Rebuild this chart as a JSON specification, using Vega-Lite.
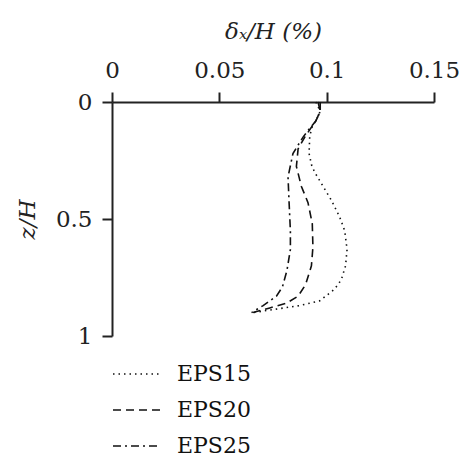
{
  "$schema": "https://vega.github.io/schema/vega-lite/v6.json",
  "autosize": "none",
  "padding": {"left": 112, "top": 102, "right": 40, "bottom": 133},
  "width": 322,
  "height": 234,
  "data": {
    "values": [
      {"series": "EPS15", "z": 0, "dx": 0.095},
      {"series": "EPS15", "z": 0.04, "dx": 0.097},
      {"series": "EPS15", "z": 0.08, "dx": 0.095},
      {"series": "EPS15", "z": 0.11, "dx": 0.093},
      {"series": "EPS15", "z": 0.15, "dx": 0.0921},
      {"series": "EPS15", "z": 0.22, "dx": 0.0918},
      {"series": "EPS15", "z": 0.27, "dx": 0.093},
      {"series": "EPS15", "z": 0.3, "dx": 0.0944},
      {"series": "EPS15", "z": 0.36, "dx": 0.0983},
      {"series": "EPS15", "z": 0.42, "dx": 0.1022},
      {"series": "EPS15", "z": 0.49, "dx": 0.106},
      {"series": "EPS15", "z": 0.55, "dx": 0.1084},
      {"series": "EPS15", "z": 0.63, "dx": 0.1095},
      {"series": "EPS15", "z": 0.7, "dx": 0.1088},
      {"series": "EPS15", "z": 0.76, "dx": 0.1068},
      {"series": "EPS15", "z": 0.8, "dx": 0.1037},
      {"series": "EPS15", "z": 0.85, "dx": 0.0967},
      {"series": "EPS15", "z": 0.87, "dx": 0.0874},
      {"series": "EPS15", "z": 0.883, "dx": 0.078},
      {"series": "EPS15", "z": 0.893, "dx": 0.0704},
      {"series": "EPS15", "z": 0.9, "dx": 0.066},
      {"series": "EPS20", "z": 0, "dx": 0.096},
      {"series": "EPS20", "z": 0.04, "dx": 0.097},
      {"series": "EPS20", "z": 0.08, "dx": 0.095},
      {"series": "EPS20", "z": 0.12, "dx": 0.092},
      {"series": "EPS20", "z": 0.15, "dx": 0.0898},
      {"series": "EPS20", "z": 0.2, "dx": 0.0867},
      {"series": "EPS20", "z": 0.275, "dx": 0.0859},
      {"series": "EPS20", "z": 0.36, "dx": 0.0882},
      {"series": "EPS20", "z": 0.43, "dx": 0.0913},
      {"series": "EPS20", "z": 0.52, "dx": 0.0933},
      {"series": "EPS20", "z": 0.62, "dx": 0.0936},
      {"series": "EPS20", "z": 0.7, "dx": 0.0929},
      {"series": "EPS20", "z": 0.78, "dx": 0.0902},
      {"series": "EPS20", "z": 0.83, "dx": 0.0867},
      {"series": "EPS20", "z": 0.86, "dx": 0.0812},
      {"series": "EPS20", "z": 0.88, "dx": 0.0735},
      {"series": "EPS20", "z": 0.9, "dx": 0.0657},
      {"series": "EPS25", "z": 0, "dx": 0.097},
      {"series": "EPS25", "z": 0.04, "dx": 0.097},
      {"series": "EPS25", "z": 0.08, "dx": 0.095},
      {"series": "EPS25", "z": 0.12, "dx": 0.0915},
      {"series": "EPS25", "z": 0.15, "dx": 0.089},
      {"series": "EPS25", "z": 0.22, "dx": 0.0843},
      {"series": "EPS25", "z": 0.32, "dx": 0.082},
      {"series": "EPS25", "z": 0.43, "dx": 0.0825},
      {"series": "EPS25", "z": 0.55, "dx": 0.0831},
      {"series": "EPS25", "z": 0.63, "dx": 0.0831},
      {"series": "EPS25", "z": 0.72, "dx": 0.0815},
      {"series": "EPS25", "z": 0.79, "dx": 0.0794},
      {"series": "EPS25", "z": 0.83, "dx": 0.0766},
      {"series": "EPS25", "z": 0.87, "dx": 0.0704},
      {"series": "EPS25", "z": 0.9, "dx": 0.065}
    ]
  },
  "mark": {"type": "line", "color": "#111", "strokeWidth": 1.6},
  "encoding": {
    "x": {
      "field": "dx",
      "type": "quantitative",
      "scale": {"domain": [0, 0.15], "nice": false, "zero": false},
      "axis": {
        "orient": "top",
        "title": "δₓ/H (%)",
        "titleFontStyle": "italic",
        "values": [0, 0.05, 0.1, 0.15],
        "labelExpr": "'' + datum.value",
        "labelFlush": false,
        "titlePadding": 16
      }
    },
    "y": {
      "field": "z",
      "type": "quantitative",
      "scale": {"domain": [0, 1], "reverse": true, "nice": false},
      "axis": {
        "title": "z/H",
        "titleFontStyle": "italic",
        "values": [0, 0.5, 1],
        "labelExpr": "'' + datum.value",
        "labelFlush": false,
        "titlePadding": 16
      }
    },
    "order": {"field": "z", "type": "quantitative"},
    "strokeDash": {
      "field": "series",
      "type": "nominal",
      "scale": {
        "domain": ["EPS15", "EPS20", "EPS25"],
        "range": [[1.5, 4], [8, 5], [8, 4, 2, 4]]
      },
      "legend": {
        "title": null,
        "orient": "none",
        "legendX": 0,
        "legendY": 247,
        "symbolType": "stroke",
        "symbolSize": 2304,
        "symbolStrokeWidth": 1.6,
        "symbolStrokeColor": "#111",
        "labelFontSize": 22,
        "labelFont": "DejaVu Serif",
        "labelColor": "#111",
        "labelOffset": 15,
        "rowPadding": -16
      }
    }
  },
  "config": {
    "view": {"stroke": null},
    "font": "DejaVu Serif",
    "axis": {
      "grid": false,
      "domainColor": "#222",
      "domainWidth": 2,
      "tickColor": "#222",
      "tickWidth": 2,
      "tickSize": 10,
      "labelFont": "DejaVu Serif",
      "labelFontSize": 23,
      "labelColor": "#222",
      "labelPadding": 10,
      "titleFont": "DejaVu Serif",
      "titleFontSize": 23,
      "titleFontWeight": "normal",
      "titleColor": "#222"
    }
  }
}
